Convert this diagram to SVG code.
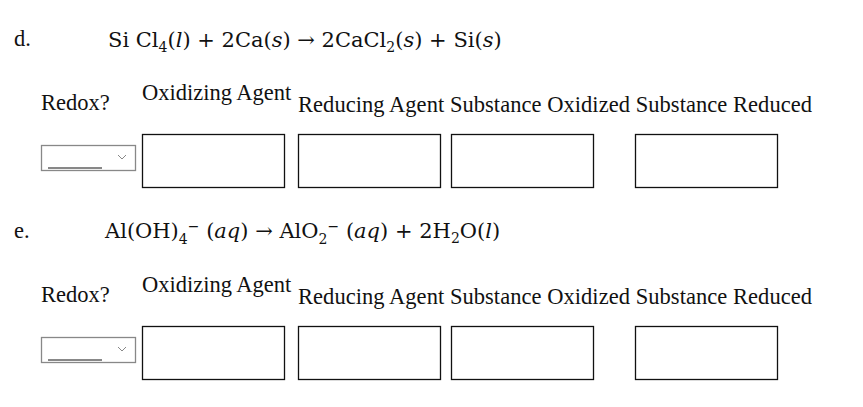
<svg xmlns="http://www.w3.org/2000/svg" width="863" height="407" viewBox="0 0 863 407">
<style>
text{font-family:"Liberation Serif","Times New Roman",serif;font-size:22.5px;fill:#111}
.eq{font-family:"DejaVu Serif","Liberation Serif",serif;font-size:21px}
.i{font-style:italic}
.box{fill:#fff;stroke:#111;stroke-width:1.3}
.dd{fill:#fff;stroke:#888;stroke-width:1.3}
</style>
<rect width="863" height="407" fill="#fff"/>
<g id="d">
<text x="14" y="46">d.</text>
<text class="eq" x="108" y="47">Si Cl<tspan font-size="14" dy="5">4</tspan><tspan dy="-5">(</tspan><tspan class="i">l</tspan>) + 2Ca(<tspan class="i">s</tspan>) → 2CaCl<tspan font-size="14" dy="5">2</tspan><tspan dy="-5">(</tspan><tspan class="i">s</tspan>) + Si(<tspan class="i">s</tspan>)</text>
<text x="41" y="110">Redox?</text>
<text x="142" y="100">Oxidizing Agent</text>
<text x="298" y="112" textLength="514">Reducing Agent Substance Oxidized Substance Reduced</text>
<rect class="dd" x="41.5" y="145.5" width="94" height="25"/>
<line x1="48" y1="168" x2="102" y2="168" stroke="#111"/>
<path d="M118 155l4 4 4-4" fill="none" stroke="#888"/>
<rect class="box" x="142.5" y="134.5" width="142" height="53"/>
<rect class="box" x="298.5" y="134.5" width="142" height="53"/>
<rect class="box" x="451.5" y="134.5" width="142" height="53"/>
<rect class="box" x="635.5" y="134.5" width="142" height="53"/>
</g>
<g id="e">
<text x="14" y="238">e.</text>
<text class="eq" x="105" y="238">Al(OH)<tspan font-size="14" dy="6">4</tspan><tspan font-size="14" dy="-13">−</tspan><tspan dy="7"> (</tspan><tspan class="i">aq</tspan>) → AlO<tspan font-size="14" dy="6">2</tspan><tspan font-size="14" dy="-13">−</tspan><tspan dy="7"> (</tspan><tspan class="i">aq</tspan>) + 2H<tspan font-size="14" dy="5">2</tspan><tspan dy="-5">O(</tspan><tspan class="i">l</tspan>)</text>
<text x="41" y="302">Redox?</text>
<text x="142" y="292">Oxidizing Agent</text>
<text x="298" y="304" textLength="514">Reducing Agent Substance Oxidized Substance Reduced</text>
<rect class="dd" x="41.5" y="337.5" width="94" height="25"/>
<line x1="48" y1="360" x2="102" y2="360" stroke="#111"/>
<path d="M118 347l4 4 4-4" fill="none" stroke="#888"/>
<rect class="box" x="142.5" y="326.5" width="142" height="53"/>
<rect class="box" x="298.5" y="326.5" width="142" height="53"/>
<rect class="box" x="451.5" y="326.5" width="142" height="53"/>
<rect class="box" x="635.5" y="326.5" width="142" height="53"/>
</g>
</svg>
